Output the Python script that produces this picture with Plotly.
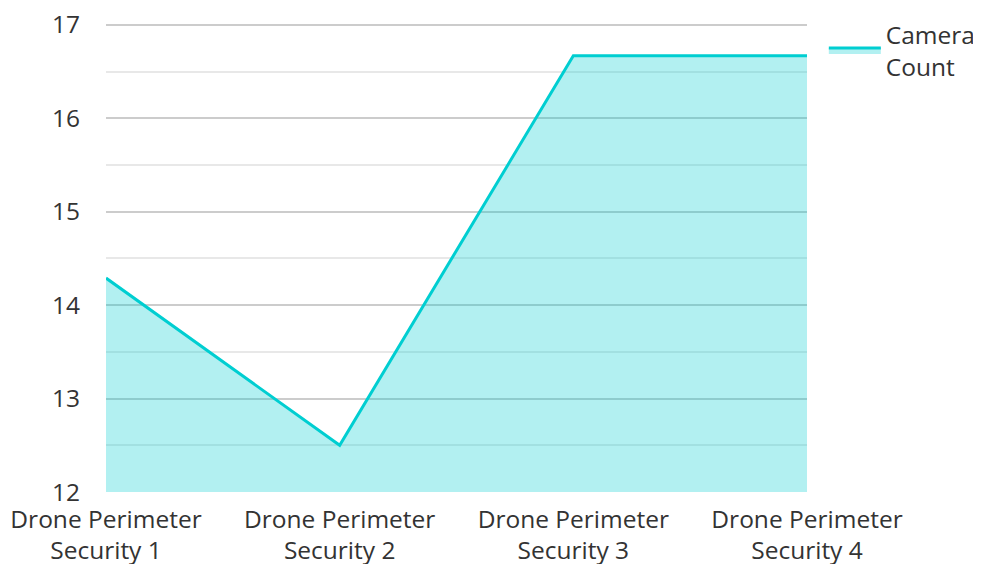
import plotly.graph_objects as go

categories = ["Drone Perimeter<br>Security 1", "Drone Perimeter<br>Security 2",
              "Drone Perimeter<br>Security 3", "Drone Perimeter<br>Security 4"]
camera_count = [14.29, 12.5, 16.67, 16.67]
y_ticks = [12, 13, 14, 15, 16, 17]

fig = go.Figure()
fig.add_trace(go.Scatter(
    x=categories, y=camera_count, mode="lines", name="Camera<br>Count",
    line=dict(color="#00CED1", width=3),
    fill="tozeroy", fillcolor="rgba(0,206,209,0.3)",
))

fig.update_layout(
    width=981, height=564,
    margin=dict(l=98, r=182, t=15, b=80, autoexpand=False),
    paper_bgcolor="white", plot_bgcolor="white",
    font=dict(family="Open Sans", size=24.5, color="#333333"),
    showlegend=True,
    legend=dict(x=1.024, y=1.024, xanchor="left", yanchor="top", itemwidth=52,
                font=dict(size=24.5), bgcolor="rgba(0,0,0,0)"),
    xaxis=dict(showgrid=False, zeroline=False, showline=False, automargin=False,
               range=[0, 3], ticks="", ticklabelstandoff=10, tickfont=dict(size=24.5),
               ticklabeloverflow="allow"),
    yaxis=dict(range=[12, 17.02], tickvals=y_ticks, showgrid=True, automargin=False,
               gridcolor="#cccccc", gridwidth=1.5, zeroline=False, showline=False,
               ticks="", ticklabelstandoff=25, ticklabeloverflow="allow",
               minor=dict(dtick=0.5, showgrid=True, gridcolor="#e8e8e8", gridwidth=1.5),
               tickfont=dict(size=24.5)),
)

fig.write_html("out.html")
